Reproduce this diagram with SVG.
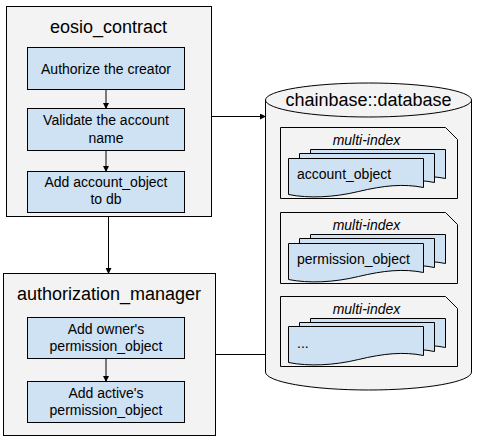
<svg xmlns="http://www.w3.org/2000/svg" width="478" height="446" viewBox="0 0 478 446">
<defs>
<style>
.outer{fill:#f3f3f3;stroke:#000;stroke-width:1}
.step{fill:#cfe2f3;stroke:#000;stroke-width:1}
.doc{fill:#cfe2f3;stroke:#000;stroke-width:1}
.idx{fill:#f3f3f3;stroke:#000;stroke-width:1}
.title{font-family:"Liberation Sans",Arial,sans-serif;font-size:18px;fill:#000;text-anchor:middle}
.lbl{font-family:"Liberation Sans",Arial,sans-serif;font-size:14px;fill:#000;text-anchor:middle}
.it{font-family:"Liberation Sans",Arial,sans-serif;font-size:14px;font-style:italic;fill:#000;text-anchor:middle}
.obj{font-family:"Liberation Sans",Arial,sans-serif;font-size:14px;fill:#000}
.ln{stroke:#000;stroke-width:1;fill:none}
</style>
<marker id="ah" markerWidth="6" markerHeight="6" refX="5" refY="3" orient="auto" markerUnits="userSpaceOnUse">
<path d="M0,0 L6,3 L0,6 Z" fill="#000"/>
</marker>
<path id="docshape" d="M0,0 H135 V29 C115,25 95,27 70,33 C45,39 20,40 0,36 Z"/>
</defs>

<g id="eosio_contract">
<rect class="outer" x="6.5" y="6.5" width="205" height="210"/>
<text class="title" x="108.5" y="33">eosio_contract</text>
<g id="authorize">
<rect class="step" x="27.5" y="47.5" width="157" height="42"/>
<text class="lbl" x="106" y="74">Authorize the creator</text>
</g>
<g id="validate">
<rect class="step" x="27.5" y="108.5" width="157" height="42"/>
<text class="lbl" x="106" y="125">Validate the account</text>
<text class="lbl" x="106" y="143">name</text>
</g>
<g id="add_account">
<rect class="step" x="27.5" y="171.5" width="157" height="41"/>
<text class="lbl" x="106" y="187">Add account_object</text>
<text class="lbl" x="106" y="204">to db</text>
</g>
</g>

<g id="authorization_manager">
<rect class="outer" x="3.5" y="273.5" width="212" height="162"/>
<text class="title" x="109" y="300">authorization_manager</text>
<g id="add_owner">
<rect class="step" x="27.5" y="317.5" width="157" height="41"/>
<text class="lbl" x="106" y="334">Add owner's</text>
<text class="lbl" x="106" y="351">permission_object</text>
</g>
<g id="add_active">
<rect class="step" x="27.5" y="381.5" width="157" height="41"/>
<text class="lbl" x="106" y="398">Add active's</text>
<text class="lbl" x="106" y="415">permission_object</text>
</g>
</g>

<g id="database">
<path class="outer" d="M265.5,100 V372 A103,18 0 0 0 471.5,372 V100"/>
<ellipse class="outer" cx="368.5" cy="100" rx="103" ry="17"/>
<text class="title" x="368.5" y="106">chainbase::database</text>

<g id="index_account">
<path class="idx" d="M280.5,127.5 H445.5 L457.5,139.5 V198.5 H280.5 Z"/>
<text class="it" x="366.5" y="145">multi-index</text>
<use href="#docshape" class="doc" x="310.5" y="149.5"/>
<use href="#docshape" class="doc" x="299.5" y="153.5"/>
<use href="#docshape" class="doc" x="288.5" y="158.5"/>
<text class="obj" x="297" y="179">account_object</text>
</g>
<g id="index_permission">
<path class="idx" d="M280.5,212.5 H445.5 L457.5,224.5 V283.5 H280.5 Z"/>
<text class="it" x="366.5" y="230">multi-index</text>
<use href="#docshape" class="doc" x="310.5" y="234.5"/>
<use href="#docshape" class="doc" x="299.5" y="238.5"/>
<use href="#docshape" class="doc" x="288.5" y="243.5"/>
<text class="obj" x="297" y="264">permission_object</text>
</g>
<g id="index_other">
<path class="idx" d="M280.5,296.5 H445.5 L457.5,308.5 V366.5 H280.5 Z"/>
<text class="it" x="366.5" y="314">multi-index</text>
<use href="#docshape" class="doc" x="310.5" y="318.5"/>
<use href="#docshape" class="doc" x="299.5" y="322.5"/>
<use href="#docshape" class="doc" x="288.5" y="326.5"/>
<text class="obj" x="297" y="348">...</text>
</g>
</g>

<g id="connectors">
<line class="ln" x1="106" y1="90" x2="106" y2="108" marker-end="url(#ah)"/>
<line class="ln" x1="106" y1="151" x2="106" y2="171" marker-end="url(#ah)"/>
<line class="ln" x1="106" y1="359" x2="106" y2="381" marker-end="url(#ah)"/>
<line class="ln" x1="108.5" y1="217" x2="108.5" y2="273" marker-end="url(#ah)"/>
<line class="ln" x1="212" y1="116.5" x2="265" y2="116.5" marker-end="url(#ah)"/>
<line class="ln" x1="216" y1="354.5" x2="265" y2="354.5"/>
</g>
</svg>
